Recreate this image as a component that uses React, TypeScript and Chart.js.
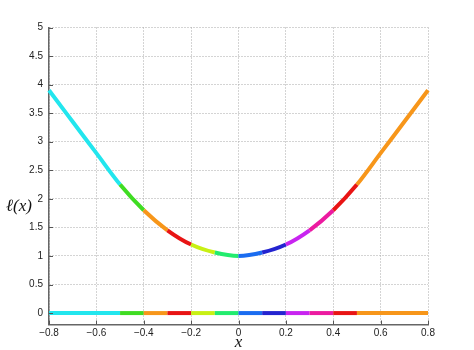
import React, { useEffect, useRef } from "react";
import { Chart, registerables } from "chart.js";

Chart.register(...registerables);

const xValues = [-0.8, -0.7, -0.6, -0.5, -0.4, -0.3, -0.2, -0.1, 0, 0.1, 0.2, 0.3, 0.4, 0.5, 0.6, 0.7, 0.8];
const lossValues = [3.9, 3.35, 2.8, 2.25, 1.8, 1.45, 1.2, 1.06, 1.0, 1.06, 1.2, 1.45, 1.8, 2.25, 2.8, 3.35, 3.9];
const baselineValues = [0, 0, 0, 0, 0, 0, 0, 0, 0, 0, 0, 0, 0, 0, 0, 0, 0];
const segmentColors = [
  "#22e6ee", "#22e6ee", "#22e6ee",
  "#3fdc22",
  "#f7961a",
  "#e81414",
  "#c8f014",
  "#22ec6e",
  "#1a6cf0",
  "#2424d0",
  "#c824f0",
  "#ec1aa0",
  "#e81414",
  "#f7961a", "#f7961a", "#f7961a",
];
const yTickLabels = ["0", "0.5", "1", "1.5", "2", "2.5", "3", "3.5", "4", "4.5", "5"];
const xTickLabels = ["−0.8", "−0.6", "−0.4", "−0.2", "0", "0.2", "0.4", "0.6", "0.8"];

export default function App() {
  const ref = useRef<HTMLCanvasElement>(null);
  useEffect(() => {
    if (!ref.current) return;
    const labelsPlugin = {
      id: "labelsPlugin",
      afterDraw(chart: any) {
        const ctx = chart.ctx;
        const xs = chart.scales.x;
        const ys = chart.scales.y;
        const area = chart.chartArea;
        ctx.save();
        ctx.strokeStyle = "#555";
        ctx.lineWidth = 1;
        ys.ticks.forEach((t: any) => {
          const py = Math.round(ys.getPixelForValue(t.value)) + 0.5;
          ctx.beginPath();
          ctx.moveTo(area.left, py);
          ctx.lineTo(area.left + 4, py);
          ctx.stroke();
        });
        xs.ticks.forEach((t: any) => {
          const px = Math.round(xs.getPixelForValue(t.value)) + 0.5;
          ctx.beginPath();
          ctx.moveTo(px, area.bottom);
          ctx.lineTo(px, area.bottom - 4);
          ctx.stroke();
        });
        ctx.fillStyle = "#111";
        ctx.font = "italic 17px 'Liberation Serif', 'DejaVu Serif', serif";
        ctx.textAlign = "center";
        ctx.textBaseline = "middle";
        ctx.fillText("ℓ(x)", 19, 207);
        ctx.fillText("x", (area.left + area.right) / 2, 343);
        ctx.restore();
      },
    };
    const chart = new Chart(ref.current, {
      type: "line",
      data: {
        datasets: [
          {
            data: xValues.map((x, i) => ({ x, y: lossValues[i] })),
            borderWidth: 4,
            pointRadius: 0,
            cubicInterpolationMode: "monotone",
            borderColor: segmentColors[0],
            segment: { borderColor: (c: any) => segmentColors[c.p0DataIndex] },
            clip: false,
          } as any,
          {
            data: xValues.map((x, i) => ({ x, y: baselineValues[i] })),
            borderWidth: 4,
            pointRadius: 0,
            borderColor: segmentColors[0],
            segment: { borderColor: (c: any) => segmentColors[c.p0DataIndex] },
            clip: false,
          } as any,
        ],
      },
      options: {
        animation: false,
        responsive: false,
        layout: { padding: { left: 0, top: 27.5, right: 46, bottom: 0 } },
        plugins: { legend: { display: false }, tooltip: { enabled: false } },
        scales: {
          x: {
            type: "linear",
            min: -0.8,
            max: 0.8,
            afterFit: (s: any) => { s.height = 25.5; },
            afterBuildTicks: (s: any) => {
              s.ticks = xTickLabels.map((_, i) => ({ value: -0.8 + i * 0.2 }));
            },
            ticks: {
              callback: (_v: any, i: number) => xTickLabels[i],
              color: "#222",
              font: { family: "'Liberation Sans', Arial, sans-serif", size: 10 },
              padding: 3,
              maxRotation: 0,
              autoSkip: false,
            },
            grid: { color: "#a8a8a8", lineWidth: 1, drawTicks: false },
            border: { color: "#666", width: 1.5, dash: [1, 2] },
          },
          y: {
            type: "linear",
            min: -0.2,
            max: 5,
            afterFit: (s: any) => { s.width = 49; },
            afterBuildTicks: (s: any) => {
              s.ticks = yTickLabels.map((l) => ({ value: Number(l) }));
            },
            ticks: {
              callback: (_v: any, i: number) => yTickLabels[i],
              color: "#222",
              font: { family: "'Liberation Sans', Arial, sans-serif", size: 10 },
              padding: 6,
              autoSkip: false,
            },
            grid: { color: "#a8a8a8", lineWidth: 1, drawTicks: false },
            border: { color: "#666", width: 1.5, dash: [1, 2] },
          },
        },
      } as any,
      plugins: [labelsPlugin],
    });
    return () => chart.destroy();
  }, []);
  return (
    <div style={{ position: "fixed", left: 0, top: 0, width: 474, height: 350, background: "#fff" }}>
      <canvas ref={ref} width={474} height={350} />
    </div>
  );
}
